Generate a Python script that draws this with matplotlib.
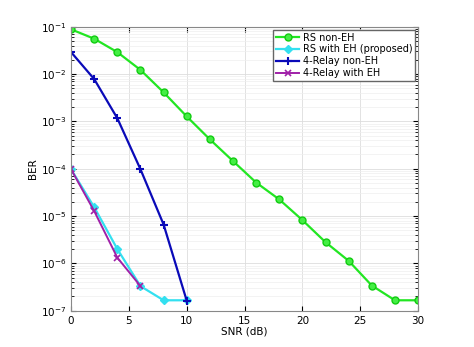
import numpy as np
import matplotlib
matplotlib.use('Agg')
import matplotlib.pyplot as plt
from matplotlib.ticker import NullFormatter

# Dados
snr_rs = np.arange(0, 31, 2)
ber_rs = [0.088, 0.0557, 0.029, 0.0122, 0.0041, 0.00127, 4.16e-4, 1.45e-4,
          5.1e-5, 2.24e-5, 8.2e-6, 2.8e-6, 1.13e-6, 3.4e-7, 1.66e-7, 1.66e-7]

snr_rs_eh = [0, 2, 4, 6, 8, 10]
ber_rs_eh = [9.7e-5, 1.53e-5, 2.0e-6, 3.3e-7, 1.66e-7, 1.66e-7]

snr_relay = [0, 2, 4, 6, 8, 10]
ber_relay = [0.029, 7.8e-3, 1.16e-3, 9.7e-5, 6.6e-6, 1.62e-7]

snr_relay_eh = [0, 2, 4, 6]
ber_relay_eh = [9.7e-5, 1.27e-5, 1.32e-6, 3.3e-7]

fig = plt.figure(figsize=(4.74, 3.47), dpi=100)
ax = fig.add_axes([0.15, 0.1046, 0.732, 0.8184])

ax.semilogy(snr_rs, ber_rs, '-o', color='#22e622', lw=1.6, ms=5,
            mfc='#44ee44', mec='#11cc11', label='RS non-EH')
ax.semilogy(snr_rs_eh, ber_rs_eh, '-D', color='#33e0f0', lw=1.6, ms=4,
            label='RS with EH (proposed)')
ax.semilogy(snr_relay, ber_relay, '-+', color='#0a0ab8', lw=1.6, ms=6,
            mew=1.5, label='4-Relay non-EH')
ax.semilogy(snr_relay_eh, ber_relay_eh, '-x', color='#a020a8', lw=1.4, ms=4,
            mew=1.2, label='4-Relay with EH')

ax.set_xlim(0, 30)
ax.set_ylim(1e-7, 1e-1)
ax.set_xticks([0, 5, 10, 15, 20, 25, 30])
ax.yaxis.set_minor_formatter(NullFormatter())
ax.grid(True, which='major', color='#dddddd', lw=0.6)
ax.grid(True, which='minor', axis='y', color='#eeeeee', lw=0.5)
ax.tick_params(labelsize=7.5, direction='in', which='both', top=True, right=True)
for s in ax.spines.values():
    s.set_color('#888888')

ax.set_xlabel('SNR (dB)', fontsize=7.5, labelpad=1)
ax.set_ylabel('BER', fontsize=7.5, labelpad=2)

leg = ax.legend(loc='upper right', fontsize=7, handlelength=2.3,
                handletextpad=0.4, borderaxespad=0.3, fancybox=False,
                framealpha=1, labelspacing=0.2, borderpad=0.3)
leg.get_frame().set_edgecolor('#666666')

plt.savefig('out.png', dpi=100)
